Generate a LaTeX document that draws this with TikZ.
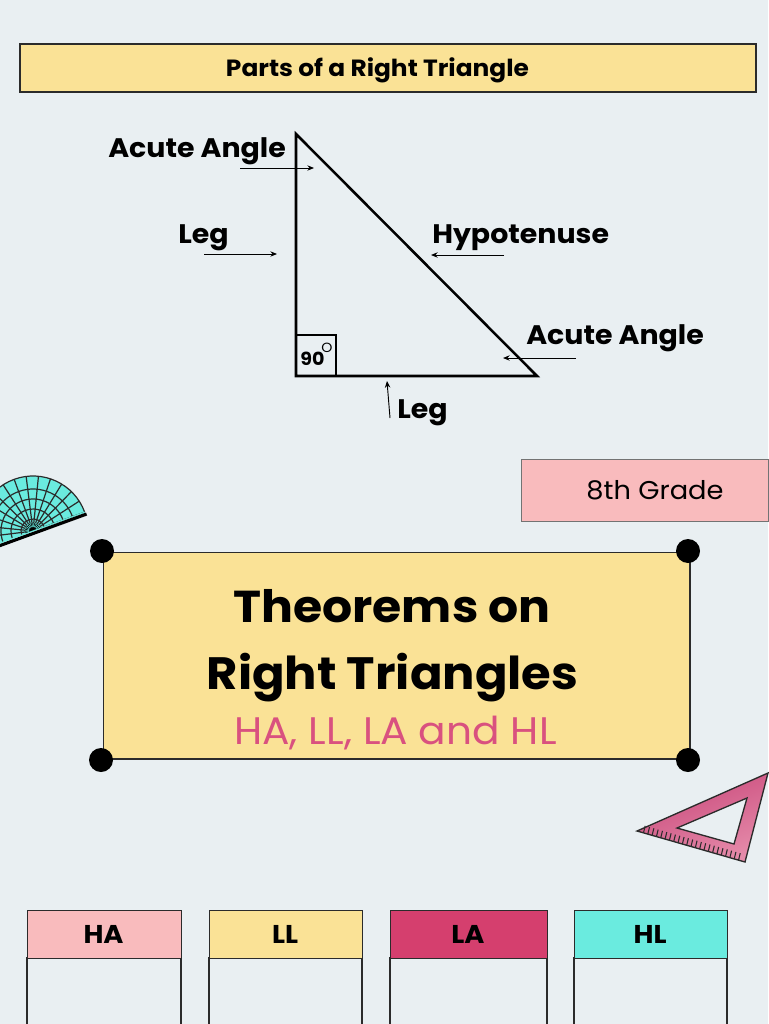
\documentclass[tikz,border=0pt]{standalone}
\usepackage{fontspec}
\setmainfont[FakeStretch=1.06]{Poppins}
\usetikzlibrary{arrows.meta,calc}
\definecolor{bgc}{HTML}{E9EFF2}
\definecolor{yel}{HTML}{FAE296}
\definecolor{pnk}{HTML}{F9BBBD}
\definecolor{crim}{HTML}{D53F6E}
\definecolor{teal}{HTML}{6AEBDF}
\definecolor{mag}{HTML}{D9517F}
\definecolor{sqd}{HTML}{C9487A}
\definecolor{sql}{HTML}{E58BAA}
\definecolor{line}{HTML}{2B2B2B}
\tikzset{
 x=0.75pt,y=-0.75pt,
 box/.style={draw=line,line width=0.8pt},
 lab/.style={font=\fontsize{20.1}{22}\selectfont\bfseries,inner sep=0pt,anchor=west},
 thin arrow/.style={line width=0.7pt,-{Stealth[length=5pt,width=4pt]}},
 dot/.style={circle,fill=black,minimum size=18pt,inner sep=0pt},
 head/.style={font=\fontsize{19.3}{20}\selectfont\bfseries,inner sep=0pt},
}
\begin{document}
\begin{tikzpicture}
\useasboundingbox (0,0) rectangle (768,1024);
\fill[bgc] (0,0) rectangle (768,1024);
% banner
\node[box,fill=yel,minimum width=552pt,minimum height=36pt,inner sep=0pt,anchor=center] (banner) at (388,68) {};
\node[inner sep=0pt,font=\fontsize{17.6}{20}\selectfont\bfseries] (bannertext) at (377.5,70.5) {Parts of a Right Triangle};
% triangle
\coordinate (A) at (296,134);
\coordinate (B) at (296,376);
\coordinate (C) at (537,376);
\draw[line width=1.9pt,line join=miter] (A)--(B)--(C)--cycle;
\draw[line width=1.7pt] (296,335) rectangle (336,376);
\node[inner sep=0pt,font=\fontsize{13.5}{14}\selectfont\bfseries] (ninety) at (312.5,359) {90};
\node[inner sep=0pt,font=\fontsize{10}{10}\selectfont] (deg) at (327,348) {O};
\node[lab] (aa1) at (108,151) {Acute Angle};
\node[lab] (leg1) at (178,238) {Leg};
\node[lab] (hyp) at (432,238) {Hypotenuse};
\node[lab] (aa2) at (526,338) {Acute Angle};
\node[lab] (leg2) at (397,413) {Leg};
\coordinate (a1s) at (240,168); \coordinate (a1e) at (314,168);
\coordinate (l1s) at (204,254); \coordinate (l1e) at (277,254);
\coordinate (hs) at (504,255); \coordinate (he) at (431,255);
\coordinate (a2s) at (576,358); \coordinate (a2e) at (503,358);
\coordinate (l2s) at (390,418); \coordinate (l2e) at (387,381);
\draw[thin arrow] (a1s)--(a1e);
\draw[thin arrow] (l1s)--(l1e);
\draw[thin arrow] (hs)--(he);
\draw[thin arrow] (a2s)--(a2e);
\draw[thin arrow] (l2s)--(l2e);
% grade
\node[draw=black!55,line width=0.5pt,fill=pnk,minimum width=185pt,minimum height=46.5pt,inner sep=0pt] (grade) at (645,490.5) {};
\node[inner sep=0pt,font=\fontsize{19.3}{22}\selectfont] (gradetext) at (655,490.5) {8th Grade};
% protractor
\begin{scope}
\clip (0,460) rectangle (100,560);
\fill[teal] (33,531)++(-20:55) arc[start angle=-20,end angle=-200,radius=55] -- cycle;
\foreach \r in {12,22,32,42,55} \draw[line width=0.9pt,line] (33,531)++(-20:\r) arc[start angle=-20,end angle=-200,radius=\r];
\foreach \a in {20,32.86,...,200} \draw[line width=0.9pt,line] (33,531)++(-\a:8)--++(-\a:47);
\fill[black] (33,531)++(-20:8) arc[start angle=-20,end angle=-200,radius=8] -- cycle;
\foreach \a in {32.86,45.7,...,190} \draw[teal,line width=0.4pt] (33,531)++(-\a:4)--++(-\a:4);
\draw[line width=2.4pt] (33,533.5)++(-20:57)--++(-200:120);
\draw[teal,line width=0.8pt] (33,531)++(-20:55)--++(-200:120);
\end{scope}
% title
\node[draw=line,line width=1pt,fill=yel,minimum width=440pt,minimum height=155pt,inner sep=0pt] (title) at (396.5,655.5) {};
\node[dot] (d1) at (102,551) {};
\node[dot] (d2) at (688,551) {};
\node[dot] (d3) at (101,760) {};
\node[dot] (d4) at (688,760) {};
\node[inner sep=0pt,font=\fontsize{33.5}{36}\selectfont\bfseries] (t1) at (392,606) {Theorems on};
\node[inner sep=0pt,font=\fontsize{34}{36}\selectfont\bfseries] (t2) at (392.5,678) {Right Triangles};
\node[inner sep=0pt,text=mag,font=\fontsize{28.8}{30}\selectfont] (t3) at (395.5,733) {HA, LL, LA and HL};
% set square
\shade[even odd rule,top color=sqd,bottom color=sql,shading angle=20] (768,773)--(745,862)--(637,831)--cycle (747,798)--(734,844)--(677,828)--cycle;
\draw[line,line width=1pt,line join=miter] (768,773)--(745,862)--(637,831)--cycle (747,798)--(734,844)--(677,828)--cycle;
\foreach \t in {0.06,0.1,...,0.98} \draw[line,line width=0.8pt] ($(637,831)!\t!(745,862)$)--++(1.7,-7);
% table
\foreach \n/\x/\w/\c/\l in {a/27/154/pnk/HA,b/209/153/yel/LL,c/390/157/crim/LA,d/574/153/teal/HL}{
 \draw[box] (\x,958) rectangle (\x+\w,1030);
 \node[box,fill=\c,minimum width=\w*0.75pt,minimum height=36pt,inner sep=0pt,anchor=north west] (h\n) at (\x,910) {};
 \node[head] (l\n) at ($(h\n.center)+(-1,0)$) {\l};
}
\end{tikzpicture}
\end{document}
